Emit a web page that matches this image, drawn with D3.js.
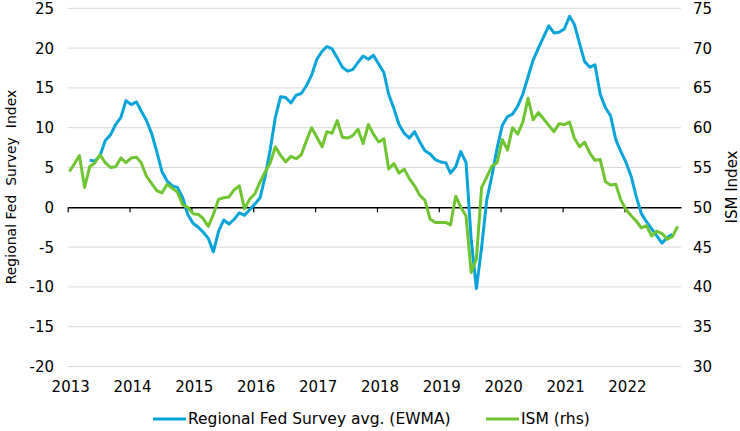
<!DOCTYPE html>
<html>
<head>
<meta charset="utf-8">
<script src="https://cdn.jsdelivr.net/npm/d3@7"></script>
<style>
  body { margin: 0; background: #fff; }
  text { font-family: "DejaVu Sans", Verdana, sans-serif; fill: #000; }
</style>
</head>
<body>
<script>
// monthly data, starting Jan 2013
var startYear = 2013;
var yearLabels = ["2013", "2014", "2015", "2016", "2017", "2018", "2019", "2020", "2021", "2022"];
var leftTicks = [-20, -15, -10, -5, 0, 5, 10, 15, 20, 25];
var rightTicks = [30, 35, 40, 45, 50, 55, 60, 65, 70, 75];

// Regional Fed Survey avg. (EWMA), left axis (starts May 2013)
var fedValues = [null, null, null, null,
  5.9, 5.8, 6.5, 8.4, 9.1, 10.4, 11.3, 13.4,
  12.9, 13.25, 12.1, 10.9, 9.3, 7.0, 4.5, 3.3, 2.7, 2.5, 1.2, -0.9,
  -2.0, -2.5, -3.1, -3.9, -5.6, -3.0, -1.6, -2.1, -1.5, -0.7, -1.0, -0.3,
  0.4, 1.2, 3.8, 7.3, 11.3, 13.9, 13.8, 13.1, 14.1, 14.3, 15.3, 16.6,
  18.6, 19.6, 20.2, 19.9, 18.8, 17.6, 17.1, 17.3, 18.2, 19.0, 18.6, 19.1,
  18.0, 16.9, 14.2, 12.4, 10.4, 9.3, 8.7, 9.5, 8.2, 7.1, 6.7, 6.0,
  5.7, 5.6, 4.3, 5.1, 7.0, 5.6, -4.0, -10.2, -5.0, 0.9, 4.0, 7.4,
  10.3, 11.4, 11.7, 12.7, 14.2, 16.4, 18.5, 20.0, 21.4, 22.8, 21.9, 22.0,
  22.4, 24.0, 23.0, 20.6, 18.3, 17.6, 17.9, 14.2, 12.5, 11.5, 8.5, 7.0,
  5.6, 3.8, 1.4, -0.8, -1.8, -2.7, -3.6, -4.5, -3.8, -3.4];

// ISM (rhs), right axis
var ismValues = [
  54.5, 55.5, 56.5, 52.5, 55.1, 55.6, 56.6, 55.6, 55.0, 55.1, 56.2, 55.6,
  56.2, 56.3, 55.6, 53.9, 53.0, 52.1, 51.8, 52.9, 52.4, 51.9, 50.3, 50.0,
  49.2, 49.1, 48.6, 47.6, 49.1, 51.0, 51.2, 51.3, 52.2, 52.7, 49.8, 51.0,
  51.7, 53.2, 54.4, 55.6, 57.6, 56.5, 55.7, 56.4, 56.1, 56.6, 58.4, 60.0,
  58.8, 57.6, 59.5, 59.3, 60.9, 58.8, 58.7, 59.0, 59.8, 58.0, 60.4, 59.2,
  58.2, 58.6, 54.8, 55.5, 54.3, 54.8, 53.6, 52.7, 51.5, 50.9, 48.5, 48.1,
  48.1, 48.1, 47.8, 51.4, 50.0, 48.9, 41.8, 43.5, 52.5, 53.8, 55.2, 55.6,
  58.5, 57.2, 60.0, 59.2, 60.7, 63.7, 61.0, 61.9, 61.1, 60.3, 59.5, 60.5,
  60.4, 60.7, 58.7, 57.6, 58.2, 56.8, 55.9, 56.0, 53.2, 52.8, 52.9, 50.9,
  49.7, 48.9, 48.3, 47.4, 47.7, 46.4, 47.0, 46.7, 46.0, 46.3, 47.6];

var svgWidth = 740;
var svgHeight = 431;
var blue = "#06a4db";
var green = "#6fc530";

var xScale = d3.scaleTime()
    .domain([new Date(2013, 0, 1), new Date(2022, 11, 1)])
    .range([67.7, 681]);

var yLeft = d3.scaleLinear()
    .domain([-20, 25])
    .range([366.5, 8.3]);

var yRight = d3.scaleLinear()
    .domain([30, 75])
    .range([366.5, 8.3]);

function monthDate(i) { return new Date(startYear, i, 11); }

var svg = d3.select("body")
    .append("svg")
    .attr("width", svgWidth)
    .attr("height", svgHeight);

// gridlines
svg.append("g")
   .selectAll("line")
   .data(leftTicks.filter(function(d) { return d !== 0; }))
   .enter()
   .append("line")
   .attr("x1", 67.7)
   .attr("x2", 681)
   .attr("y1", function(d) { return yLeft(d); })
   .attr("y2", function(d) { return yLeft(d); })
   .attr("stroke", "#d9d9d9")
   .attr("stroke-width", 1);

// left labels
svg.append("g")
   .selectAll("text")
   .data(leftTicks)
   .enter()
   .append("text")
   .attr("x", 54)
   .attr("y", function(d) { return yLeft(d); })
   .attr("dy", "0.36em")
   .attr("text-anchor", "end")
   .attr("font-size", 15)
   .text(function(d) { return d; });

// right labels
svg.append("g")
   .selectAll("text")
   .data(rightTicks)
   .enter()
   .append("text")
   .attr("x", 693)
   .attr("y", function(d) { return yRight(d); })
   .attr("dy", "0.36em")
   .attr("text-anchor", "start")
   .attr("font-size", 15)
   .text(function(d) { return d; });

// x axis on the zero line
var xAxis = d3.axisBottom(xScale)
    .tickValues(yearLabels.map(function(y) { return new Date(+y, 0, 1); }))
    .tickSize(5)
    .tickSizeOuter(0)
    .tickFormat("");

var gx = svg.append("g")
    .attr("transform", "translate(0," + yLeft(0) + ")")
    .call(xAxis);
gx.select(".domain").attr("stroke", "#000").attr("stroke-width", 1.5);
gx.selectAll(".tick line").attr("stroke", "#000").attr("stroke-width", 1.2);

// year labels along the bottom
svg.append("g")
   .selectAll("text")
   .data(yearLabels)
   .enter()
   .append("text")
   .attr("x", function(d) { return xScale(new Date(+d, 0, 1)) + 3; })
   .attr("y", 392)
   .attr("text-anchor", "middle")
   .attr("font-size", 15)
   .text(function(d) { return d; });

// lines
var fedLine = d3.line()
    .defined(function(d) { return d !== null; })
    .x(function(d, i) { return xScale(monthDate(i)); })
    .y(function(d) { return yLeft(d); });

var ismLine = d3.line()
    .x(function(d, i) { return xScale(monthDate(i)); })
    .y(function(d) { return yRight(d); });

svg.append("path")
   .datum(fedValues)
   .attr("d", fedLine)
   .attr("fill", "none")
   .attr("stroke", blue)
   .attr("stroke-width", 3)
   .attr("stroke-linejoin", "round");

svg.append("path")
   .datum(ismValues)
   .attr("d", ismLine)
   .attr("fill", "none")
   .attr("stroke", green)
   .attr("stroke-width", 3)
   .attr("stroke-linejoin", "round");

// axis titles
svg.append("text")
   .attr("transform", "translate(16,187) rotate(-90)")
   .attr("text-anchor", "middle")
   .attr("font-size", 14)
   .style("white-space", "pre")
   .text("Regional Fed  Survey  Index");

svg.append("text")
   .attr("transform", "translate(737,187) rotate(-90)")
   .attr("text-anchor", "middle")
   .attr("font-size", 15)
   .text("ISM Index");

// legend
var legend = [
  {name: "Regional Fed Survey avg. (EWMA)", color: blue, x: 153},
  {name: "ISM (rhs)", color: green, x: 486}
];
var lg = svg.append("g").selectAll("g")
   .data(legend)
   .enter()
   .append("g");
lg.append("line")
   .attr("x1", function(d) { return d.x; })
   .attr("x2", function(d) { return d.x + 33; })
   .attr("y1", 419)
   .attr("y2", 419)
   .attr("stroke", function(d) { return d.color; })
   .attr("stroke-width", 3);
lg.append("text")
   .attr("x", function(d) { return d.x + 35; })
   .attr("y", 424)
   .attr("font-size", 15.5)
   .text(function(d) { return d.name; });
</script>
</body>
</html>
